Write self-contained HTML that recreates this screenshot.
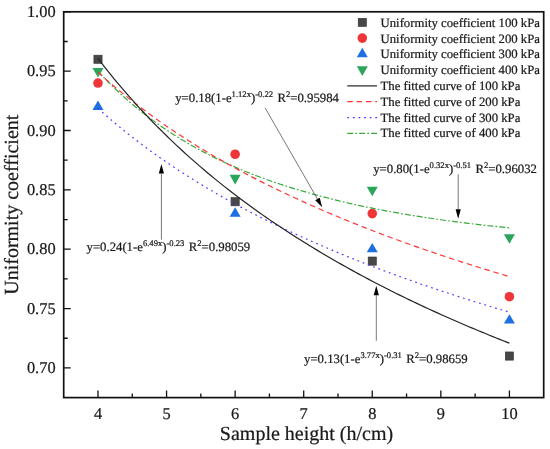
<!DOCTYPE html>
<html><head><meta charset="utf-8"><style>
html,body{margin:0;padding:0;background:#fff;}
svg{display:block;}
text{font-family:'Liberation Serif','Times New Roman',serif;fill:#1a1a1a;stroke:#1a1a1a;stroke-width:0.22px;text-rendering:geometricPrecision;}
</style></head><body>
<svg width="550" height="449" viewBox="0 0 550 449">
<rect x="0" y="0" width="550" height="449" fill="#fff"/>

<rect x="93.89" y="55.18" width="8.2" height="8.2" fill="#474747" stroke="#333" stroke-width="0.6"/>
<rect x="231.03" y="197.63" width="8.2" height="8.2" fill="#474747" stroke="#333" stroke-width="0.6"/>
<rect x="368.17" y="256.99" width="8.2" height="8.2" fill="#474747" stroke="#333" stroke-width="0.6"/>
<rect x="505.31" y="351.95" width="8.2" height="8.2" fill="#474747" stroke="#333" stroke-width="0.6"/>
<circle cx="97.99" cy="83.02" r="4.8" fill="#ef3538"/>
<circle cx="235.13" cy="154.25" r="4.8" fill="#ef3538"/>
<circle cx="372.27" cy="213.60" r="4.8" fill="#ef3538"/>
<circle cx="509.41" cy="296.70" r="4.8" fill="#ef3538"/>
<path d="M97.99,100.50 L103.49,109.90 L92.49,109.90 Z" fill="#1d6fe3"/>
<path d="M235.13,207.34 L240.63,216.74 L229.63,216.74 Z" fill="#1d6fe3"/>
<path d="M372.27,242.95 L377.77,252.35 L366.77,252.35 Z" fill="#1d6fe3"/>
<path d="M509.41,314.17 L514.91,323.57 L503.91,323.57 Z" fill="#1d6fe3"/>
<path d="M92.49,67.95 L103.49,67.95 L97.99,77.55 Z" fill="#2aa55a"/>
<path d="M229.63,174.79 L240.63,174.79 L235.13,184.39 Z" fill="#2aa55a"/>
<path d="M366.77,186.66 L377.77,186.66 L372.27,196.26 Z" fill="#2aa55a"/>
<path d="M503.91,234.14 L514.91,234.14 L509.41,243.74 Z" fill="#2aa55a"/>
<path d="M97.99,71.32 L101.41,74.98 L104.84,78.56 L108.27,82.04 L111.70,85.43 L115.13,88.75 L118.56,91.98 L121.99,95.13 L125.41,98.21 L128.84,101.22 L132.27,104.15 L135.70,107.02 L139.13,109.81 L142.56,112.54 L145.99,115.21 L149.41,117.82 L152.84,120.37 L156.27,122.85 L159.70,125.29 L163.13,127.66 L166.56,129.99 L169.99,132.26 L173.41,134.48 L176.84,136.65 L180.27,138.77 L183.70,140.85 L187.13,142.88 L190.56,144.86 L193.99,146.81 L197.41,148.71 L200.84,150.57 L204.27,152.39 L207.70,154.17 L211.13,155.91 L214.56,157.61 L217.99,159.28 L221.41,160.91 L224.84,162.51 L228.27,164.08 L231.70,165.61 L235.13,167.11 L238.56,168.58 L241.99,170.02 L245.41,171.43 L248.84,172.81 L252.27,174.16 L255.70,175.48 L259.13,176.78 L262.56,178.05 L265.99,179.29 L269.41,180.51 L272.84,181.71 L276.27,182.88 L279.70,184.02 L283.13,185.15 L286.56,186.25 L289.99,187.33 L293.41,188.39 L296.84,189.43 L300.27,190.45 L303.70,191.45 L307.13,192.44 L310.56,193.42 L313.99,194.37 L317.41,195.31 L320.84,196.24 L324.27,197.14 L327.70,198.03 L331.13,198.90 L334.56,199.75 L337.99,200.59 L341.41,201.42 L344.84,202.22 L348.27,203.02 L351.70,203.79 L355.13,204.56 L358.56,205.31 L361.99,206.05 L365.41,206.77 L368.84,207.48 L372.27,208.18 L375.70,208.86 L379.13,209.53 L382.56,210.19 L385.99,210.84 L389.41,211.47 L392.84,212.10 L396.27,212.71 L399.70,213.31 L403.13,213.91 L406.56,214.49 L409.99,215.06 L413.41,215.62 L416.84,216.17 L420.27,216.71 L423.70,217.24 L427.13,217.76 L430.56,218.27 L433.99,218.78 L437.41,219.27 L440.84,219.76 L444.27,220.23 L447.70,220.70 L451.13,221.16 L454.56,221.62 L457.99,222.06 L461.41,222.50 L464.84,222.93 L468.27,223.35 L471.70,223.76 L475.13,224.17 L478.56,224.57 L481.99,224.96 L485.41,225.35 L488.84,225.73 L492.27,226.10 L495.70,226.47 L499.13,226.83 L502.56,227.18 L505.99,227.53 L509.41,227.87" style="stroke:#38a838;stroke-width:1.2;fill:none;stroke-dasharray:6 2.1 1.7 2.1"/>
<path d="M97.99,72.31 L101.41,75.37 L104.84,78.40 L108.27,81.37 L111.70,84.31 L115.13,87.20 L118.56,90.05 L121.99,92.86 L125.41,95.63 L128.84,98.36 L132.27,101.06 L135.70,103.72 L139.13,106.34 L142.56,108.93 L145.99,111.48 L149.41,114.01 L152.84,116.49 L156.27,118.95 L159.70,121.38 L163.13,123.77 L166.56,126.14 L169.99,128.47 L173.41,130.78 L176.84,133.06 L180.27,135.31 L183.70,137.54 L187.13,139.73 L190.56,141.91 L193.99,144.05 L197.41,146.18 L200.84,148.27 L204.27,150.35 L207.70,152.40 L211.13,154.43 L214.56,156.43 L217.99,158.41 L221.41,160.38 L224.84,162.31 L228.27,164.23 L231.70,166.13 L235.13,168.01 L238.56,169.87 L241.99,171.71 L245.41,173.53 L248.84,175.33 L252.27,177.11 L255.70,178.88 L259.13,180.62 L262.56,182.35 L265.99,184.07 L269.41,185.76 L272.84,187.44 L276.27,189.11 L279.70,190.76 L283.13,192.39 L286.56,194.01 L289.99,195.61 L293.41,197.20 L296.84,198.77 L300.27,200.33 L303.70,201.88 L307.13,203.42 L310.56,204.96 L313.99,206.48 L317.41,207.99 L320.84,209.49 L324.27,210.97 L327.70,212.44 L331.13,213.90 L334.56,215.35 L337.99,216.78 L341.41,218.21 L344.84,219.62 L348.27,221.02 L351.70,222.41 L355.13,223.79 L358.56,225.16 L361.99,226.51 L365.41,227.86 L368.84,229.20 L372.27,230.52 L375.70,231.84 L379.13,233.15 L382.56,234.44 L385.99,235.73 L389.41,237.01 L392.84,238.28 L396.27,239.53 L399.70,240.78 L403.13,242.02 L406.56,243.26 L409.99,244.48 L413.41,245.69 L416.84,246.90 L420.27,248.10 L423.70,249.29 L427.13,250.47 L430.56,251.64 L433.99,252.80 L437.41,253.96 L440.84,255.11 L444.27,256.25 L447.70,257.38 L451.13,258.51 L454.56,259.63 L457.99,260.74 L461.41,261.84 L464.84,262.94 L468.27,264.03 L471.70,265.11 L475.13,266.18 L478.56,267.25 L481.99,268.31 L485.41,269.37 L488.84,270.42 L492.27,271.46 L495.70,272.49 L499.13,273.52 L502.56,274.54 L505.99,275.56 L509.41,276.57" style="stroke:#ff3333;stroke-width:1.2;fill:none;stroke-dasharray:5.5 3.8"/>
<path d="M97.99,108.38 L101.41,111.45 L104.84,114.47 L108.27,117.45 L111.70,120.38 L115.13,123.27 L118.56,126.13 L121.99,128.94 L125.41,131.71 L128.84,134.44 L132.27,137.14 L135.70,139.79 L139.13,142.42 L142.56,145.00 L145.99,147.56 L149.41,150.08 L152.84,152.56 L156.27,155.02 L159.70,157.44 L163.13,159.84 L166.56,162.20 L169.99,164.53 L173.41,166.84 L176.84,169.11 L180.27,171.36 L183.70,173.58 L187.13,175.78 L190.56,177.95 L193.99,180.09 L197.41,182.21 L200.84,184.31 L204.27,186.38 L207.70,188.42 L211.13,190.45 L214.56,192.45 L217.99,194.43 L221.41,196.38 L224.84,198.32 L228.27,200.24 L231.70,202.13 L235.13,204.00 L238.56,205.86 L241.99,207.69 L245.41,209.51 L248.84,211.30 L252.27,213.08 L255.70,214.84 L259.13,216.58 L262.56,218.31 L265.99,220.02 L269.41,221.71 L272.84,223.38 L276.27,225.04 L279.70,226.69 L283.13,228.31 L286.56,229.93 L289.99,231.52 L293.41,233.11 L296.84,234.68 L300.27,236.23 L303.70,237.77 L307.13,239.31 L310.56,240.84 L313.99,242.36 L317.41,243.86 L320.84,245.35 L324.27,246.83 L327.70,248.30 L331.13,249.75 L334.56,251.19 L337.99,252.62 L341.41,254.04 L344.84,255.45 L348.27,256.84 L351.70,258.22 L355.13,259.60 L358.56,260.96 L361.99,262.31 L365.41,263.65 L368.84,264.98 L372.27,266.30 L375.70,267.61 L379.13,268.92 L382.56,270.21 L385.99,271.49 L389.41,272.76 L392.84,274.02 L396.27,275.27 L399.70,276.52 L403.13,277.75 L406.56,278.98 L409.99,280.19 L413.41,281.40 L416.84,282.60 L420.27,283.79 L423.70,284.98 L427.13,286.15 L430.56,287.32 L433.99,288.48 L437.41,289.63 L440.84,290.77 L444.27,291.90 L447.70,293.03 L451.13,294.15 L454.56,295.26 L457.99,296.37 L461.41,297.46 L464.84,298.56 L468.27,299.64 L471.70,300.71 L475.13,301.78 L478.56,302.85 L481.99,303.90 L485.41,304.95 L488.84,305.99 L492.27,307.03 L495.70,308.06 L499.13,309.08 L502.56,310.10 L505.99,311.11 L509.41,312.11" style="stroke:#4a3cff;stroke-width:1.2;fill:none;stroke-dasharray:1.8 3.8"/>
<path d="M97.99,58.49 L101.41,62.94 L104.84,67.31 L108.27,71.62 L111.70,75.86 L115.13,80.03 L118.56,84.14 L121.99,88.19 L125.41,92.18 L128.84,96.10 L132.27,99.97 L135.70,103.79 L139.13,107.55 L142.56,111.25 L145.99,114.90 L149.41,118.51 L152.84,122.06 L156.27,125.56 L159.70,129.02 L163.13,132.42 L166.56,135.79 L169.99,139.11 L173.41,142.38 L176.84,145.61 L180.27,148.81 L183.70,151.96 L187.13,155.07 L190.56,158.14 L193.99,161.17 L197.41,164.17 L200.84,167.13 L204.27,170.05 L207.70,172.94 L211.13,175.79 L214.56,178.61 L217.99,181.40 L221.41,184.15 L224.84,186.87 L228.27,189.56 L231.70,192.22 L235.13,194.85 L238.56,197.45 L241.99,200.03 L245.41,202.57 L248.84,205.08 L252.27,207.57 L255.70,210.04 L259.13,212.47 L262.56,214.88 L265.99,217.27 L269.41,219.63 L272.84,221.96 L276.27,224.27 L279.70,226.56 L283.13,228.83 L286.56,231.07 L289.99,233.29 L293.41,235.49 L296.84,237.67 L300.27,239.83 L303.70,241.96 L307.13,244.10 L310.56,246.21 L313.99,248.30 L317.41,250.38 L320.84,252.43 L324.27,254.47 L327.70,256.49 L331.13,258.49 L334.56,260.47 L337.99,262.44 L341.41,264.38 L344.84,266.32 L348.27,268.23 L351.70,270.13 L355.13,272.01 L358.56,273.88 L361.99,275.73 L365.41,277.56 L368.84,279.38 L372.27,281.19 L375.70,282.98 L379.13,284.76 L382.56,286.52 L385.99,288.27 L389.41,290.00 L392.84,291.72 L396.27,293.42 L399.70,295.12 L403.13,296.80 L406.56,298.46 L409.99,300.12 L413.41,301.76 L416.84,303.39 L420.27,305.00 L423.70,306.61 L427.13,308.20 L430.56,309.78 L433.99,311.35 L437.41,312.91 L440.84,314.45 L444.27,315.99 L447.70,317.51 L451.13,319.02 L454.56,320.52 L457.99,322.02 L461.41,323.50 L464.84,324.97 L468.27,326.43 L471.70,327.88 L475.13,329.31 L478.56,330.74 L481.99,332.16 L485.41,333.57 L488.84,334.97 L492.27,336.37 L495.70,337.75 L499.13,339.12 L502.56,340.48 L505.99,341.84 L509.41,343.18" style="stroke:#222;stroke-width:1.2;fill:none"/>
<rect x="63.7" y="11.8" width="480.00000000000006" height="385.8" fill="none" stroke="#111" stroke-width="1.7"/>
<path d="M97.99,397.6 V390.6 M166.56,397.6 V390.6 M235.13,397.6 V390.6 M303.70,397.6 V390.6 M372.27,397.6 V390.6 M440.84,397.6 V390.6 M509.41,397.6 V390.6 M132.27,397.6 V393.6 M200.84,397.6 V393.6 M269.41,397.6 V393.6 M337.99,397.6 V393.6 M406.56,397.6 V393.6 M475.13,397.6 V393.6 M63.7,367.92 H70.7 M63.7,308.57 H70.7 M63.7,249.22 H70.7 M63.7,189.86 H70.7 M63.7,130.51 H70.7 M63.7,71.15 H70.7 M63.7,11.80 H70.7 M63.7,338.25 H67.7 M63.7,278.89 H67.7 M63.7,219.54 H67.7 M63.7,160.18 H67.7 M63.7,100.83 H67.7 M63.7,41.48 H67.7" stroke="#111" stroke-width="1.3" fill="none"/>
<text x="97.99" y="418.9" font-size="16.4" text-anchor="middle">4</text>
<text x="166.56" y="418.9" font-size="16.4" text-anchor="middle">5</text>
<text x="235.13" y="418.9" font-size="16.4" text-anchor="middle">6</text>
<text x="303.70" y="418.9" font-size="16.4" text-anchor="middle">7</text>
<text x="372.27" y="418.9" font-size="16.4" text-anchor="middle">8</text>
<text x="440.84" y="418.9" font-size="16.4" text-anchor="middle">9</text>
<text x="509.41" y="418.9" font-size="16.4" text-anchor="middle">10</text>
<text x="55.6" y="373.12" font-size="16.4" text-anchor="end">0.70</text>
<text x="55.6" y="313.77" font-size="16.4" text-anchor="end">0.75</text>
<text x="55.6" y="254.42" font-size="16.4" text-anchor="end">0.80</text>
<text x="55.6" y="195.06" font-size="16.4" text-anchor="end">0.85</text>
<text x="55.6" y="135.71" font-size="16.4" text-anchor="end">0.90</text>
<text x="55.6" y="76.35" font-size="16.4" text-anchor="end">0.95</text>
<text x="55.6" y="17.00" font-size="16.4" text-anchor="end">1.00</text>
<text x="306.5" y="440" font-size="20" text-anchor="middle">Sample height (h/cm)</text>
<text transform="translate(18.3,204.7) rotate(-90)" x="0" y="0" font-size="20" text-anchor="middle">Uniformity coefficient</text>
<text x="380.5" y="26.70" font-size="12.75">Uniformity coefficient 100 kPa</text>
<text x="380.5" y="42.50" font-size="12.75">Uniformity coefficient 200 kPa</text>
<text x="380.5" y="58.30" font-size="12.75">Uniformity coefficient 300 kPa</text>
<text x="380.5" y="74.10" font-size="12.75">Uniformity coefficient 400 kPa</text>
<text x="380.5" y="89.90" font-size="12.75">The fitted curve of 100 kPa</text>
<text x="380.5" y="105.70" font-size="12.75">The fitted curve of 200 kPa</text>
<text x="380.5" y="121.50" font-size="12.75">The fitted curve of 300 kPa</text>
<text x="380.5" y="137.30" font-size="12.75">The fitted curve of 400 kPa</text>
<rect x="358.20" y="18.30" width="8.2" height="8.2" fill="#474747" stroke="#333" stroke-width="0.6"/>
<circle cx="362.30" cy="38.10" r="4.8" fill="#ef3538"/>
<path d="M362.30,47.80 L367.80,57.20 L356.80,57.20 Z" fill="#1d6fe3"/>
<path d="M356.80,66.30 L367.80,66.30 L362.30,75.90 Z" fill="#2aa55a"/>
<path d="M347.3,85.9 H377" style="stroke:#222;stroke-width:1.2;fill:none"/>
<path d="M347.3,101.7 H377" style="stroke:#ff3333;stroke-width:1.2;fill:none;stroke-dasharray:5.5 3.8"/>
<path d="M347.3,117.6 H377" style="stroke:#4a3cff;stroke-width:1.2;fill:none;stroke-dasharray:1.8 3.8"/>
<path d="M347.3,133.4 H377" style="stroke:#38a838;stroke-width:1.2;fill:none;stroke-dasharray:6 2.1 1.7 2.1"/>
<text x="175.2" y="102.2" font-size="12.75">y=0.18(1-e<tspan font-size="8.6" dy="-5.4">1.12x</tspan><tspan dy="5.4">)</tspan><tspan font-size="8.6" dy="-5.4">-0.22</tspan><tspan dy="5.4" dx="1.2"> R</tspan><tspan font-size="8.6" dy="-5.4">2</tspan><tspan dy="5.4">=0.95984</tspan></text>
<text x="373.2" y="173.3" font-size="12.75">y=0.80(1-e<tspan font-size="8.6" dy="-5.4">0.32x</tspan><tspan dy="5.4">)</tspan><tspan font-size="8.6" dy="-5.4">-0.51</tspan><tspan dy="5.4" dx="1.2"> R</tspan><tspan font-size="8.6" dy="-5.4">2</tspan><tspan dy="5.4">=0.96032</tspan></text>
<text x="86.5" y="251.2" font-size="12.75">y=0.24(1-e<tspan font-size="8.6" dy="-5.4">6.49x</tspan><tspan dy="5.4">)</tspan><tspan font-size="8.6" dy="-5.4">-0.23</tspan><tspan dy="5.4" dx="1.2"> R</tspan><tspan font-size="8.6" dy="-5.4">2</tspan><tspan dy="5.4">=0.98059</tspan></text>
<text x="304" y="362.9" font-size="12.75">y=0.13(1-e<tspan font-size="8.6" dy="-5.4">3.77x</tspan><tspan dy="5.4">)</tspan><tspan font-size="8.6" dy="-5.4">-0.31</tspan><tspan dy="5.4" dx="1.2"> R</tspan><tspan font-size="8.6" dy="-5.4">2</tspan><tspan dy="5.4">=0.98659</tspan></text>
<path d="M265.10,107.90 L317.47,199.06" stroke="#555" stroke-width="0.8" fill="none"/><path d="M322.20,207.30 L315.21,200.36 L319.72,197.77 Z" fill="#000"/>
<path d="M458.20,174.30 L458.20,209.30" stroke="#555" stroke-width="0.8" fill="none"/><path d="M458.20,218.80 L455.60,209.30 L460.80,209.30 Z" fill="#000"/>
<path d="M161.40,239.70 L161.40,173.50" stroke="#555" stroke-width="0.8" fill="none"/><path d="M161.40,164.00 L164.00,173.50 L158.80,173.50 Z" fill="#000"/>
<path d="M376.30,340.80 L376.30,295.30" stroke="#555" stroke-width="0.8" fill="none"/><path d="M376.30,285.80 L378.90,295.30 L373.70,295.30 Z" fill="#000"/>
</svg></body></html>
